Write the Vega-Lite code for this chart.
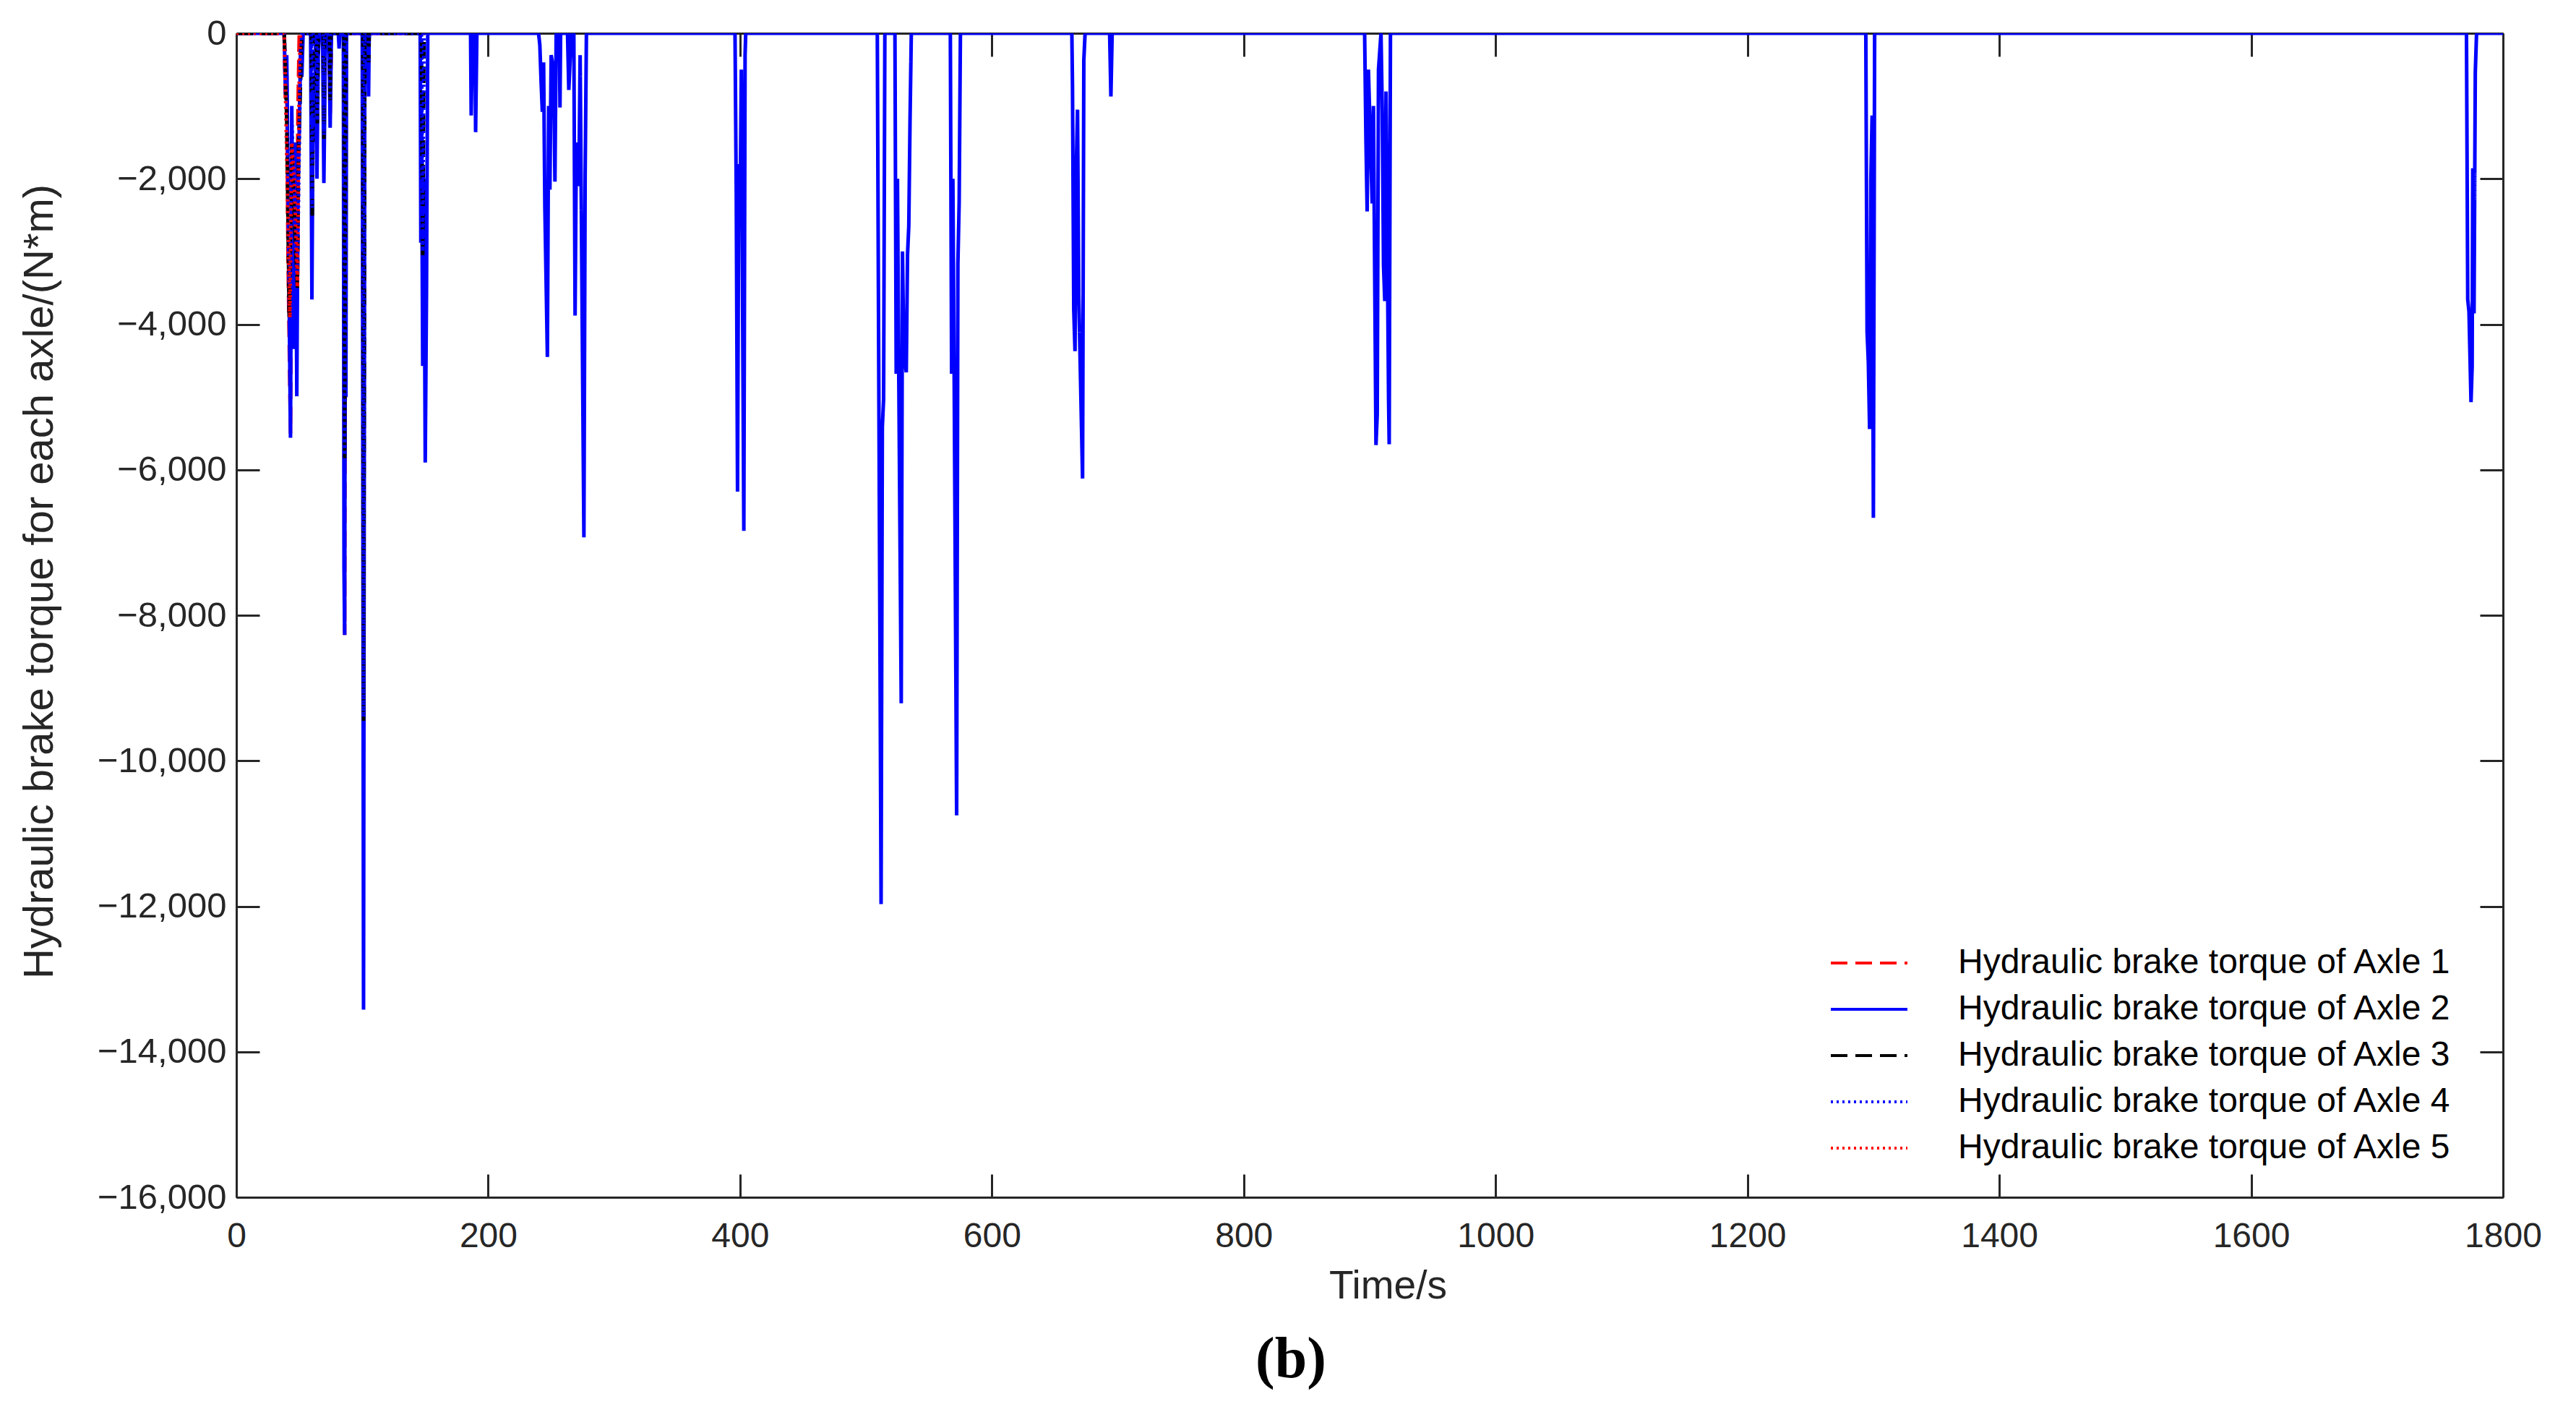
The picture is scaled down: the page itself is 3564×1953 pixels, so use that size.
{
"$schema":"https://vega.github.io/schema/vega-lite/v6.json",
"width":3136,"height":1610,
"autosize":{"type":"none"},
"padding":{"left":327,"top":46,"right":101,"bottom":297},
"background":"white",
"config":{"view":{"stroke":null},"font":"Liberation Sans"},
"title":{"text":"(b)","orient":"bottom","font":"Liberation Serif","fontWeight":"bold","fontSize":80,"color":"black","anchor":"middle","frame":"group","offset":36,"dx":-109},
"data":{"values":[
{"s":"Axle 1","t":0,"v":0},{"s":"Axle 1","t":38,"v":0},{"s":"Axle 1","t":39,"v":-900},{"s":"Axle 1","t":40,"v":-500},{"s":"Axle 1","t":41,"v":-3000},{"s":"Axle 1","t":43,"v":-5500},{"s":"Axle 1","t":44,"v":-2000},{"s":"Axle 1","t":46,"v":-3500},{"s":"Axle 1","t":48,"v":-3000},{"s":"Axle 1","t":49,"v":-1000},{"s":"Axle 1","t":50,"v":0},{"s":"Axle 1","t":73.5,"v":0},{"s":"Axle 1","t":74.5,"v":-1100},{"s":"Axle 1","t":75.5,"v":0},{"s":"Axle 1","t":85.5,"v":0},{"s":"Axle 1","t":86,"v":-8270},{"s":"Axle 1","t":86.5,"v":-2000},{"s":"Axle 1","t":87,"v":0},{"s":"Axle 1","t":150,"v":0},
{"s":"Axle 2","t":0,"v":0},{"s":"Axle 2","t":38,"v":0},{"s":"Axle 2","t":39,"v":-840},{"s":"Axle 2","t":40,"v":-300},{"s":"Axle 2","t":41,"v":-2000},{"s":"Axle 2","t":43,"v":-5560},{"s":"Axle 2","t":44,"v":-1000},{"s":"Axle 2","t":45,"v":-3000},{"s":"Axle 2","t":46,"v":-4340},{"s":"Axle 2","t":47,"v":-1500},{"s":"Axle 2","t":48,"v":-4990},{"s":"Axle 2","t":49,"v":-2000},{"s":"Axle 2","t":50,"v":-1350},{"s":"Axle 2","t":51,"v":-200},{"s":"Axle 2","t":52,"v":-600},{"s":"Axle 2","t":53,"v":0},
{"s":"Axle 2","t":59,"v":0},{"s":"Axle 2","t":60,"v":-3660},{"s":"Axle 2","t":61,"v":-800},{"s":"Axle 2","t":62,"v":-1500},{"s":"Axle 2","t":63,"v":0},{"s":"Axle 2","t":64,"v":-2000},{"s":"Axle 2","t":65,"v":-300},{"s":"Axle 2","t":66,"v":0},
{"s":"Axle 2","t":68.5,"v":0},{"s":"Axle 2","t":69.5,"v":-2060},{"s":"Axle 2","t":70.5,"v":-500},{"s":"Axle 2","t":71,"v":0},
{"s":"Axle 2","t":73.5,"v":0},{"s":"Axle 2","t":74.5,"v":-1300},{"s":"Axle 2","t":75.5,"v":0},
{"s":"Axle 2","t":81,"v":0},{"s":"Axle 2","t":81.6,"v":-210},{"s":"Axle 2","t":82.2,"v":0},
{"s":"Axle 2","t":85,"v":0},{"s":"Axle 2","t":85.5,"v":-7330},{"s":"Axle 2","t":86,"v":-8270},{"s":"Axle 2","t":86.5,"v":-3000},{"s":"Axle 2","t":87,"v":-5000},{"s":"Axle 2","t":87.5,"v":0},
{"s":"Axle 2","t":100,"v":0},{"s":"Axle 2","t":101,"v":-13420},{"s":"Axle 2","t":102,"v":0},
{"s":"Axle 2","t":104.5,"v":0},{"s":"Axle 2","t":105,"v":-870},{"s":"Axle 2","t":105.5,"v":0},
{"s":"Axle 2","t":146,"v":0},{"s":"Axle 2","t":146.5,"v":-2880},{"s":"Axle 2","t":147,"v":-1000},{"s":"Axle 2","t":148,"v":-4575},{"s":"Axle 2","t":149,"v":-2000},{"s":"Axle 2","t":150,"v":-5900},{"s":"Axle 2","t":151,"v":-3560},{"s":"Axle 2","t":152,"v":0},
{"s":"Axle 2","t":186,"v":0},{"s":"Axle 2","t":186.5,"v":-1130},{"s":"Axle 2","t":187.5,"v":0},
{"s":"Axle 2","t":189.5,"v":0},{"s":"Axle 2","t":190,"v":-1360},{"s":"Axle 2","t":191,"v":0},
{"s":"Axle 2","t":240,"v":0},{"s":"Axle 2","t":241,"v":-160},{"s":"Axle 2","t":242,"v":-660},{"s":"Axle 2","t":243,"v":-1080},{"s":"Axle 2","t":244,"v":-400},{"s":"Axle 2","t":245,"v":-2400},{"s":"Axle 2","t":247,"v":-4450},{"s":"Axle 2","t":248,"v":-1000},{"s":"Axle 2","t":249,"v":-2150},{"s":"Axle 2","t":250,"v":-300},{"s":"Axle 2","t":252,"v":-500},{"s":"Axle 2","t":253,"v":-2040},{"s":"Axle 2","t":254,"v":0},
{"s":"Axle 2","t":256.5,"v":0},{"s":"Axle 2","t":257,"v":-1020},{"s":"Axle 2","t":257.5,"v":0},
{"s":"Axle 2","t":263,"v":0},{"s":"Axle 2","t":264,"v":-780},{"s":"Axle 2","t":265,"v":-390},{"s":"Axle 2","t":266,"v":0},
{"s":"Axle 2","t":268,"v":0},{"s":"Axle 2","t":269,"v":-3880},{"s":"Axle 2","t":270,"v":-1500},{"s":"Axle 2","t":272,"v":-2100},{"s":"Axle 2","t":273,"v":-300},{"s":"Axle 2","t":276,"v":-6930},{"s":"Axle 2","t":277,"v":-1940},{"s":"Axle 2","t":278,"v":0},
{"s":"Axle 2","t":396,"v":0},{"s":"Axle 2","t":397,"v":-2230},{"s":"Axle 2","t":398,"v":-6300},{"s":"Axle 2","t":399,"v":-1800},{"s":"Axle 2","t":400,"v":-2500},{"s":"Axle 2","t":401,"v":-500},{"s":"Axle 2","t":403,"v":-6840},{"s":"Axle 2","t":404,"v":-300},{"s":"Axle 2","t":404.5,"v":0},
{"s":"Axle 2","t":509,"v":0},{"s":"Axle 2","t":510,"v":-4060},{"s":"Axle 2","t":511,"v":-7980},{"s":"Axle 2","t":512,"v":-11970},{"s":"Axle 2","t":513,"v":-5410},{"s":"Axle 2","t":514,"v":-5030},{"s":"Axle 2","t":515,"v":0},
{"s":"Axle 2","t":523,"v":0},{"s":"Axle 2","t":524,"v":-4680},{"s":"Axle 2","t":525,"v":-2000},{"s":"Axle 2","t":526,"v":-4600},{"s":"Axle 2","t":528,"v":-9210},{"s":"Axle 2","t":529,"v":-3000},{"s":"Axle 2","t":530,"v":-4350},{"s":"Axle 2","t":532,"v":-4660},{"s":"Axle 2","t":533,"v":-3040},{"s":"Axle 2","t":534,"v":-2650},{"s":"Axle 2","t":535,"v":-1180},{"s":"Axle 2","t":536,"v":0},
{"s":"Axle 2","t":567,"v":0},{"s":"Axle 2","t":568,"v":-4680},{"s":"Axle 2","t":569,"v":-2000},{"s":"Axle 2","t":570,"v":-4600},{"s":"Axle 2","t":572,"v":-10750},{"s":"Axle 2","t":573,"v":-3170},{"s":"Axle 2","t":574,"v":-2330},{"s":"Axle 2","t":575,"v":0},
{"s":"Axle 2","t":663.5,"v":0},{"s":"Axle 2","t":664,"v":-730},{"s":"Axle 2","t":665,"v":-3800},{"s":"Axle 2","t":666,"v":-4370},{"s":"Axle 2","t":667,"v":-1850},{"s":"Axle 2","t":668,"v":-1050},{"s":"Axle 2","t":669,"v":-3610},{"s":"Axle 2","t":672,"v":-6120},{"s":"Axle 2","t":673,"v":-370},{"s":"Axle 2","t":674,"v":0},
{"s":"Axle 2","t":693.5,"v":0},{"s":"Axle 2","t":694.5,"v":-870},{"s":"Axle 2","t":695.5,"v":0},
{"s":"Axle 2","t":896,"v":0},{"s":"Axle 2","t":897,"v":-1430},{"s":"Axle 2","t":898,"v":-2450},{"s":"Axle 2","t":899,"v":-500},{"s":"Axle 2","t":902,"v":-2340},{"s":"Axle 2","t":903,"v":-1000},{"s":"Axle 2","t":905,"v":-5660},{"s":"Axle 2","t":906,"v":-5240},{"s":"Axle 2","t":907,"v":-500},{"s":"Axle 2","t":909,"v":0},{"s":"Axle 2","t":910,"v":-1080},{"s":"Axle 2","t":911,"v":-3190},{"s":"Axle 2","t":912,"v":-3680},{"s":"Axle 2","t":913,"v":-800},{"s":"Axle 2","t":915,"v":-5010},{"s":"Axle 2","t":915.5,"v":-5650},{"s":"Axle 2","t":916.5,"v":0},
{"s":"Axle 2","t":1294,"v":0},{"s":"Axle 2","t":1295,"v":-4100},{"s":"Axle 2","t":1296,"v":-4520},{"s":"Axle 2","t":1297,"v":-5440},{"s":"Axle 2","t":1298,"v":-2010},{"s":"Axle 2","t":1299,"v":-1130},{"s":"Axle 2","t":1300,"v":-6660},{"s":"Axle 2","t":1301,"v":0},
{"s":"Axle 2","t":1771,"v":0},{"s":"Axle 2","t":1772,"v":-3660},{"s":"Axle 2","t":1773,"v":-3830},{"s":"Axle 2","t":1774.6,"v":-5070},{"s":"Axle 2","t":1775.5,"v":-4580},{"s":"Axle 2","t":1776,"v":-1855},{"s":"Axle 2","t":1777,"v":-3850},{"s":"Axle 2","t":1778,"v":-540},{"s":"Axle 2","t":1779,"v":0},
{"s":"Axle 2","t":1800,"v":0},
{"s":"Axle 3","t":0,"v":0},{"s":"Axle 3","t":38,"v":0},{"s":"Axle 3","t":39,"v":-500},{"s":"Axle 3","t":40,"v":-1200},{"s":"Axle 3","t":42,"v":-3900},{"s":"Axle 3","t":44,"v":-1500},{"s":"Axle 3","t":46,"v":-2500},{"s":"Axle 3","t":48.5,"v":-3500},{"s":"Axle 3","t":49.5,"v":-1500},{"s":"Axle 3","t":50.5,"v":-970},{"s":"Axle 3","t":52,"v":0},{"s":"Axle 3","t":59.5,"v":0},{"s":"Axle 3","t":60.3,"v":-2560},{"s":"Axle 3","t":61,"v":0},{"s":"Axle 3","t":63.5,"v":0},{"s":"Axle 3","t":64.3,"v":-1240},{"s":"Axle 3","t":65,"v":0},{"s":"Axle 3","t":69,"v":0},{"s":"Axle 3","t":69.5,"v":-1450},{"s":"Axle 3","t":70,"v":0},{"s":"Axle 3","t":74,"v":0},{"s":"Axle 3","t":74.5,"v":-920},{"s":"Axle 3","t":75,"v":0},{"s":"Axle 3","t":85.5,"v":0},{"s":"Axle 3","t":86,"v":-5840},{"s":"Axle 3","t":87,"v":0},{"s":"Axle 3","t":100.5,"v":0},{"s":"Axle 3","t":101,"v":-9450},{"s":"Axle 3","t":102,"v":0},{"s":"Axle 3","t":104.5,"v":0},{"s":"Axle 3","t":105,"v":-400},{"s":"Axle 3","t":105.5,"v":0},{"s":"Axle 3","t":147,"v":0},{"s":"Axle 3","t":148,"v":-3100},{"s":"Axle 3","t":149,"v":0},{"s":"Axle 3","t":150,"v":0},
{"s":"Axle 4","t":0,"v":0},{"s":"Axle 4","t":38,"v":0},{"s":"Axle 4","t":40,"v":-800},{"s":"Axle 4","t":42,"v":-3500},{"s":"Axle 4","t":44,"v":-1200},{"s":"Axle 4","t":48.5,"v":-3300},{"s":"Axle 4","t":50.5,"v":-900},{"s":"Axle 4","t":52,"v":0},{"s":"Axle 4","t":59.5,"v":0},{"s":"Axle 4","t":60.3,"v":-2400},{"s":"Axle 4","t":61,"v":0},{"s":"Axle 4","t":63.5,"v":0},{"s":"Axle 4","t":64.3,"v":-1200},{"s":"Axle 4","t":65,"v":0},{"s":"Axle 4","t":69,"v":0},{"s":"Axle 4","t":69.5,"v":-1400},{"s":"Axle 4","t":70,"v":0},{"s":"Axle 4","t":74,"v":0},{"s":"Axle 4","t":74.5,"v":-900},{"s":"Axle 4","t":75,"v":0},{"s":"Axle 4","t":85.5,"v":0},{"s":"Axle 4","t":86,"v":-5800},{"s":"Axle 4","t":87,"v":0},{"s":"Axle 4","t":100.5,"v":0},{"s":"Axle 4","t":101,"v":-9400},{"s":"Axle 4","t":102,"v":0},{"s":"Axle 4","t":104.5,"v":0},{"s":"Axle 4","t":105,"v":-400},{"s":"Axle 4","t":105.5,"v":0},{"s":"Axle 4","t":147,"v":0},{"s":"Axle 4","t":148,"v":-3000},{"s":"Axle 4","t":149,"v":0},{"s":"Axle 4","t":150,"v":0},
{"s":"Axle 5","t":0,"v":0},{"s":"Axle 5","t":38,"v":0},{"s":"Axle 5","t":39,"v":-800},{"s":"Axle 5","t":41,"v":-2500},{"s":"Axle 5","t":42.5,"v":-3910},{"s":"Axle 5","t":44,"v":-1500},{"s":"Axle 5","t":46,"v":-2000},{"s":"Axle 5","t":48.5,"v":-3490},{"s":"Axle 5","t":50,"v":-500},{"s":"Axle 5","t":51,"v":0},{"s":"Axle 5","t":52,"v":0}
]},
"layer":[
{"mark":{"type":"line","strokeWidth":5,"clip":true},
 "encoding":{
  "x":{"field":"t","type":"quantitative","scale":{"domain":[0,1800],"nice":false,"zero":false},
       "axis":{"values":[0,200,400,600,800,1000,1200,1400,1600,1800],"format":"d","grid":false,"labelFont":"Liberation Sans","labelFontSize":48,"labelColor":"#262626","labelPadding":62,"tickSize":-32,"tickWidth":3,"tickColor":"#262626","domainColor":"#262626","domainWidth":3,"title":"Time/s","titleFont":"Liberation Sans","titleFontSize":55,"titleFontWeight":"normal","titleColor":"#262626","titlePadding":18,"titleX":1593,"labelFlush":false}},
  "y":{"field":"v","type":"quantitative","scale":{"domain":[-16000,0],"nice":false,"zero":false},
       "axis":{"values":[-16000,-14000,-12000,-10000,-8000,-6000,-4000,-2000,0],"format":",d","grid":false,"labelFont":"Liberation Sans","labelFontSize":49,"labelColor":"#262626","labelPadding":46,"tickSize":-32,"tickWidth":3,"tickColor":"#262626","domainColor":"#262626","domainWidth":3,"title":"Hydraulic brake torque for each axle/(N*m)","titleFont":"Liberation Sans","titleFontSize":58,"titleFontWeight":"normal","titleColor":"#262626","titlePadding":50,"titleY":758,"labelFlush":false}},
  "color":{"field":"s","type":"nominal","scale":{"domain":["Axle 1","Axle 2","Axle 3","Axle 4","Axle 5"],"range":["#ff0000","#0000ff","#000000","#0000ff","#ff0000"]},
       "legend":{"orient":"none","legendX":2219,"legendY":1246,"title":null,"padding":0,"labelFont":"Liberation Sans","labelFontSize":48,"labelColor":"black","labelLimit":1200,"labelOffset":83,"symbolType":"M-1.4,0H1.4","symbolSize":5730,"symbolStrokeWidth":4,"rowPadding":0,"labelExpr":"'Hydraulic brake torque of ' + datum.label"}},
  "strokeDash":{"field":"s","type":"nominal","scale":{"domain":["Axle 1","Axle 2","Axle 3","Axle 4","Axle 5"],"range":[[23,11],[1,0],[23,11],[3,5],[3,5]]},
       "legend":{"orient":"none","legendX":2219,"legendY":1246,"title":null,"padding":0,"labelFont":"Liberation Sans","labelFontSize":48,"labelColor":"black","labelLimit":1200,"labelOffset":83,"symbolType":"M-1.4,0H1.4","symbolSize":5730,"symbolStrokeWidth":4,"rowPadding":0,"labelExpr":"'Hydraulic brake torque of ' + datum.label"}}
 }},
{"mark":{"type":"line","opacity":0},
 "encoding":{
  "x":{"field":"t","type":"quantitative","scale":{"domain":[0,1800],"nice":false,"zero":false},
       "axis":{"orient":"top","values":[0,200,400,600,800,1000,1200,1400,1600,1800],"labels":false,"title":null,"grid":false,"tickSize":-32,"tickWidth":3,"tickColor":"#262626","domainColor":"#262626","domainWidth":3}},
  "y":{"field":"v","type":"quantitative","scale":{"domain":[-16000,0],"nice":false,"zero":false},
       "axis":{"orient":"right","values":[-16000,-14000,-12000,-10000,-8000,-6000,-4000,-2000,0],"labels":false,"title":null,"grid":false,"tickSize":-32,"tickWidth":3,"tickColor":"#262626","domainColor":"#262626","domainWidth":3}}
 }}
],
"resolve":{"axis":{"x":"independent","y":"independent"}}
}
